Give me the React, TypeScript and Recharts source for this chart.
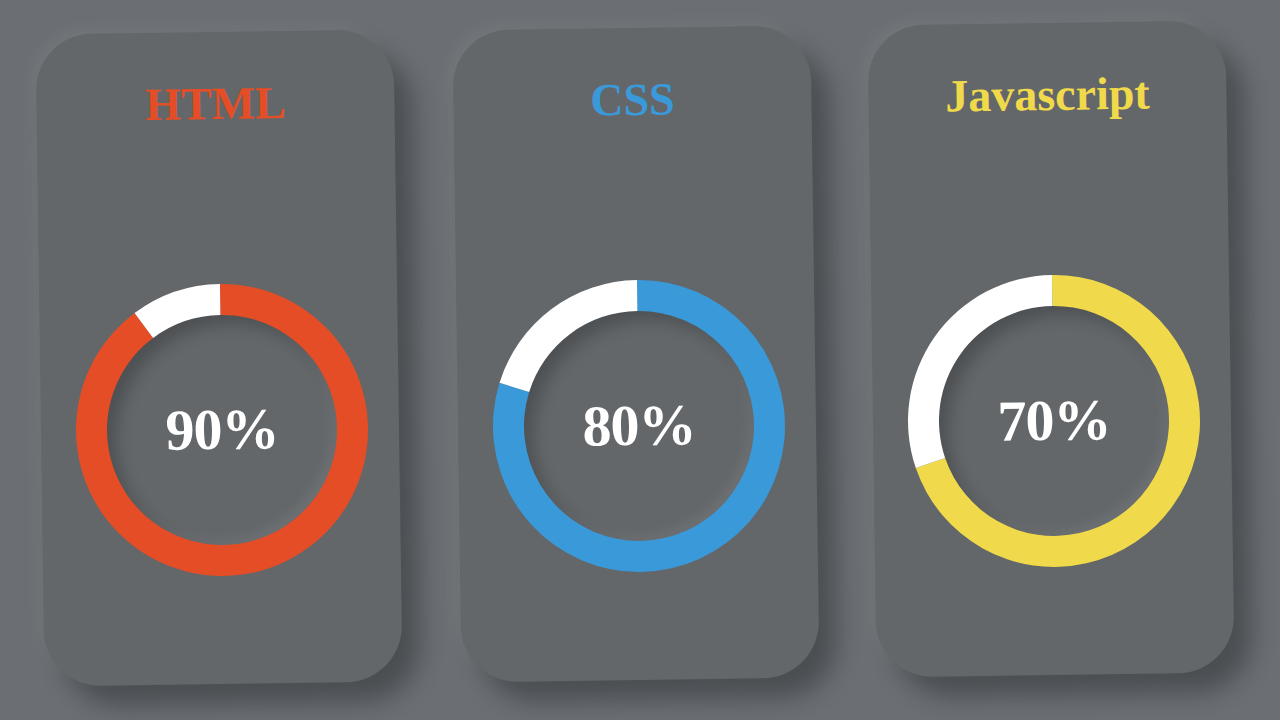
import React from 'react';
import { PieChart, Pie, Cell } from 'recharts';

const skills = ['HTML', 'CSS', 'Javascript'];
const percents = [90, 80, 70];
const colors = ['#e44d26', '#3a9ad9', '#f0d94a'];

// card placement on the page (left, top)
const cardPos = [
  { left: 40, top: 32 },
  { left: 457, top: 28 },
  { left: 872, top: 23 },
];

const CARD_W = 358;
const CARD_H = 652;
const RING_CX = 181;
const RING_CY = 398;

const SkillCard: React.FC<{ idx: number }> = ({ idx }) => {
  const value = percents[idx];
  const data = [
    { name: 'done', value },
    { name: 'rest', value: 100 - value },
  ];
  return (
    <div
      style={{
        position: 'absolute',
        left: cardPos[idx].left,
        top: cardPos[idx].top,
        width: CARD_W,
        height: CARD_H,
        borderRadius: 56,
        background: '#63676a',
        transform: 'rotate(-0.8deg)',
        boxShadow: '18px 20px 24px rgba(0,0,0,0.3), -6px -6px 16px rgba(255,255,255,0.05)',
      }}
    >
      <div
        style={{
          position: 'absolute',
          top: 45,
          width: '100%',
          textAlign: 'center',
          fontFamily: '"Liberation Serif", serif',
          fontWeight: 'bold',
          fontSize: 46,
          color: colors[idx],
        }}
      >
        {skills[idx]}
      </div>
      <div
        style={{
          position: 'absolute',
          left: RING_CX - 116,
          top: RING_CY - 116,
          width: 232,
          height: 232,
          borderRadius: '50%',
          boxShadow: 'inset 10px 10px 16px rgba(0,0,0,0.22), inset -6px -6px 12px rgba(255,255,255,0.07)',
        }}
      />
      <div style={{ position: 'absolute', left: 0, top: 0 }}>
        <PieChart width={CARD_W} height={CARD_H} margin={{ top: 0, right: 0, bottom: 0, left: 0 }}>
          <Pie
            data={data}
            dataKey="value"
            cx={RING_CX}
            cy={RING_CY}
            innerRadius={115}
            outerRadius={146}
            startAngle={90}
            endAngle={-270}
            stroke="none"
            isAnimationActive={false}
          >
            <Cell fill={colors[idx]} />
            <Cell fill="#ffffff" />
          </Pie>
        </PieChart>
      </div>
      <div
        style={{
          position: 'absolute',
          left: RING_CX - 100,
          top: RING_CY - 36,
          width: 200,
          height: 72,
          lineHeight: '72px',
          textAlign: 'center',
          fontFamily: '"Liberation Serif", serif',
          fontWeight: 'bold',
          fontSize: 58,
          letterSpacing: -1,
          color: '#ffffff',
        }}
      >
        {`${value}%`}
      </div>
    </div>
  );
};

export default function App() {
  return (
    <div
      style={{
        position: 'absolute',
        left: 0,
        top: 0,
        width: 1280,
        height: 720,
        background: '#6b6f74',
        overflow: 'hidden',
      }}
    >
      {skills.map((_, i) => (
        <SkillCard key={i} idx={i} />
      ))}
    </div>
  );
}
